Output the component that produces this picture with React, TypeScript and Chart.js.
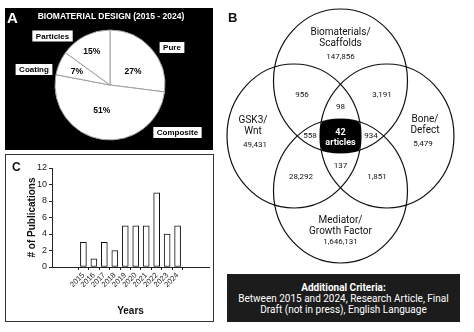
import React, { useEffect, useRef } from 'react';
import { Chart, registerables } from 'chart.js';

Chart.register(...registerables);

// ---------- Panel A data ----------
const designLabels = ['Pure', 'Composite', 'Coating', 'Particles'];
const designShares = [27, 51, 7, 15];

// ---------- Panel C data ----------
const years = [2015, 2016, 2017, 2018, 2019, 2020, 2021, 2022, 2023, 2024];
const publications = [3, 1, 3, 2, 5, 5, 5, 9, 4, 5];
const yTickStep = 2;
const yMax = 12;

// ---------- Panel B data ----------
const setNames = [
  ['Biomaterials/', 'Scaffolds'],
  ['GSK3/', 'Wnt'],
  ['Bone/', 'Defect'],
  ['Mediator/', 'Growth Factor'],
];
const setTotals = [147856, 49431, 5479, 1646131];
// overlaps: top∩left, top∩right, top∩left∩right, top∩left∩bottom, top∩right∩bottom, left∩right∩bottom, left∩bottom, right∩bottom
const overlapCounts = [956, 3191, 98, 558, 934, 137, 28292, 1851];
const coreCount = 42;
const coreUnit = 'articles';
const criteriaTitle = 'Additional Criteria:';
const criteriaLines = [
  'Between 2015 and 2024, Research Article, Final',
  'Draft (not in press), English Language',
];

// ---------- layout (not data) ----------
const pctPos = [
  [0.42, -0.25],
  [-0.15, 0.47],
  [-0.6, -0.24],
  [-0.33, -0.6],
];
const calloutPos = [
  [1.127, -0.682],
  [1.227, 0.864],
  [-1.382, -0.282],
  [-1.045, -0.891],
];
// set centres in venn units (each set has radius 1)
const vennCenters = [
  { x: 0, y: 0.764 },
  { x: -0.694, y: 0 },
  { x: 0.694, y: 0 },
  { x: 0, y: -0.764 },
];
const namePos = [
  [0, 1.44],
  [-1.306, 0.222],
  [1.261, 0.236],
  [0, -1.167],
];
const totalPos = [
  [0, 1.101],
  [-1.276, -0.125],
  [1.231, -0.111],
  [0, -1.472],
];
const overlapPos = [
  [-0.575, 0.569],
  [0.619, 0.569],
  [0, 0.403],
  [-0.455, 0],
  [0.455, 0],
  [0, -0.417],
  [-0.59, -0.576],
  [0.545, -0.576],
];

const fmt = (n: number) => n.toLocaleString('en-US');

function PieChart() {
  const ref = useRef<HTMLCanvasElement>(null);
  useEffect(() => {
    const labelPlugin = {
      id: 'pieLabels',
      afterDatasetsDraw(chart: any) {
        const ctx = chart.ctx;
        const arc = chart.getDatasetMeta(0).data[0];
        const cx = arc.x;
        const cy = arc.y;
        const r = arc.outerRadius;
        ctx.save();
        ctx.textAlign = 'center';
        ctx.textBaseline = 'middle';
        designLabels.forEach((lab, i) => {
          ctx.font = 'bold 8.5px "Liberation Sans", Arial, sans-serif';
          ctx.fillStyle = '#000';
          ctx.fillText(designShares[i] + '%', cx + pctPos[i][0] * r, cy + pctPos[i][1] * r);
          ctx.font = 'bold 8px "Liberation Sans", Arial, sans-serif';
          const w = ctx.measureText(lab).width + 7;
          const bx = cx + calloutPos[i][0] * r;
          const by = cy + calloutPos[i][1] * r;
          ctx.fillStyle = '#fff';
          ctx.fillRect(bx - w / 2, by - 5.5, w, 11);
          ctx.fillStyle = '#000';
          ctx.fillText(lab, bx, by + 0.5);
        });
        ctx.restore();
      },
    };
    const chart = new Chart(ref.current!, {
      type: 'pie',
      data: {
        labels: designLabels,
        datasets: [
          {
            data: designShares,
            backgroundColor: '#ffffff',
            borderColor: '#a0a0a0',
            borderWidth: 1,
          },
        ],
      },
      options: {
        responsive: false,
        animation: false,
        radius: 55,
        layout: { padding: { top: 20, bottom: 8, left: 2, right: 0 } },
        plugins: { legend: { display: false }, tooltip: { enabled: false } },
      } as any,
      plugins: [labelPlugin],
    });
    return () => chart.destroy();
  }, []);
  return <canvas ref={ref} width={208} height={142} style={{ width: 208, height: 142, background: '#000', display: 'block' }} />;
}

function BarChart() {
  const ref = useRef<HTMLCanvasElement>(null);
  useEffect(() => {
    const tickFont = { family: '"Liberation Sans", Arial, sans-serif', size: 9 };
    const chart = new Chart(ref.current!, {
      type: 'bar',
      data: {
        datasets: [
          {
            data: years.map((y, i) => ({ x: y, y: publications[i] })),
            backgroundColor: '#ffffff',
            borderColor: '#111',
            borderWidth: 1,
            barThickness: 6,
            borderSkipped: false,
          },
        ],
      },
      options: {
        responsive: false,
        animation: false,
        layout: { padding: { left: 16, right: 4, top: 13, bottom: 2 } },
        plugins: { legend: { display: false }, tooltip: { enabled: false } },
        scales: {
          x: {
            type: 'linear',
            min: 2012,
            max: 2027,
            offset: false,
            afterBuildTicks: (s: any) => {
              s.ticks = years.map((v) => ({ value: v }));
            },
            afterFit: (s: any) => {
              s.height = 52;
            },
            ticks: {
              autoSkip: false,
              minRotation: 45,
              maxRotation: 45,
              padding: 1,
              color: '#222',
              font: { family: '"Liberation Sans", Arial, sans-serif', size: 7.5 },
              callback: (v: any) => String(v),
            },
            grid: { drawOnChartArea: false, drawTicks: true, tickLength: 3, color: '#222' },
            border: { display: true, color: '#222', width: 1 },
            title: {
              display: true,
              text: 'Years',
              color: '#111',
              font: { family: '"Liberation Sans", Arial, sans-serif', size: 10, weight: 'bold' },
              padding: { top: 0, bottom: 2 },
            },
          },
          y: {
            min: 0,
            max: yMax,
            afterFit: (s: any) => {
              s.width = 30;
            },
            ticks: { stepSize: yTickStep, padding: 2, color: '#222', font: tickFont },
            grid: { drawOnChartArea: false, drawTicks: true, tickLength: 3, color: '#222' },
            border: { display: true, color: '#222', width: 1 },
            title: {
              display: true,
              text: '# of Publications',
              color: '#111',
              font: { family: '"Liberation Sans", Arial, sans-serif', size: 10, weight: 'bold' },
              padding: { top: 4, bottom: 4 },
            },
          },
        },
      } as any,
    });
    return () => chart.destroy();
  }, []);
  return <canvas ref={ref} width={207} height={166} style={{ width: 207, height: 166, display: 'block' }} />;
}

function VennChart() {
  const ref = useRef<HTMLCanvasElement>(null);
  useEffect(() => {
    const vennPlugin = {
      id: 'vennSets',
      afterDatasetsDraw(chart: any) {
        const ctx = chart.ctx;
        const sx = chart.scales.x;
        const sy = chart.scales.y;
        const X = (v: number) => sx.getPixelForValue(v);
        const Y = (v: number) => sy.getPixelForValue(v);
        const rx = X(1) - X(0);
        const ry = Y(0) - Y(1);
        const pts = chart.getDatasetMeta(0).data;
        ctx.save();
        // set outlines
        ctx.strokeStyle = '#111';
        ctx.lineWidth = 1.2;
        pts.forEach((p: any) => {
          ctx.beginPath();
          ctx.ellipse(p.x, p.y, rx, ry, 0, 0, Math.PI * 2);
          ctx.stroke();
        });
        // core (intersection of all sets), with softened corners
        const soft = 4;
        ctx.fillStyle = '#000';
        for (let a = 0; a < 360; a += 15) {
          const dx = soft * Math.cos((a * Math.PI) / 180);
          const dy = soft * Math.sin((a * Math.PI) / 180);
          ctx.save();
          pts.forEach((p: any) => {
            ctx.beginPath();
            ctx.ellipse(p.x + dx, p.y + dy, rx - soft, ry - soft, 0, 0, Math.PI * 2);
            ctx.clip();
          });
          ctx.fillRect(0, 0, chart.width, chart.height);
          ctx.restore();
        }
        // texts
        ctx.textAlign = 'center';
        ctx.textBaseline = 'middle';
        ctx.fillStyle = '#111';
        setNames.forEach((lines, i) => {
          ctx.font = '10px Roboto, "Noto Sans", sans-serif';
          lines.forEach((ln, k) => ctx.fillText(ln, X(namePos[i][0]), Y(namePos[i][1]) + k * 11.3));
          ctx.font = '8px Roboto, "Noto Sans", sans-serif';
          ctx.fillText(fmt(setTotals[i]), X(totalPos[i][0]), Y(totalPos[i][1]));
        });
        ctx.font = '8px Roboto, "Noto Sans", sans-serif';
        overlapCounts.forEach((c, i) => ctx.fillText(fmt(c), X(overlapPos[i][0]), Y(overlapPos[i][1])));
        ctx.fillStyle = '#fff';
        ctx.font = 'bold 9px Roboto, "Noto Sans", sans-serif';
        const mx = X(0);
        const my = Y(0);
        ctx.fillText(String(coreCount), mx, my - 3.5);
        ctx.fillText(coreUnit, mx, my + 6.5);
        ctx.restore();
      },
    };
    const chart = new Chart(ref.current!, {
      type: 'scatter',
      data: {
        datasets: [
          {
            data: vennCenters,
            pointRadius: 0,
            pointHoverRadius: 0,
            showLine: false,
            clip: false,
          } as any,
        ],
      },
      options: {
        responsive: false,
        animation: false,
        layout: { padding: 0 },
        plugins: { legend: { display: false }, tooltip: { enabled: false } },
        scales: {
          x: { type: 'linear', display: false, min: -1.724, max: 1.993 },
          y: { type: 'linear', display: false, min: -1.861, max: 1.889 },
        },
      } as any,
      plugins: [vennPlugin],
    });
    return () => chart.destroy();
  }, []);
  return <canvas ref={ref} width={249} height={270} style={{ width: 249, height: 270, display: 'block' }} />;
}

export default function App() {
  const bold = '"Liberation Sans", Arial, sans-serif';
  return (
    <div style={{ position: 'fixed', left: 0, top: 0, width: 474, height: 332, background: '#fff', overflow: 'hidden' }}>
      <div style={{ position: 'absolute', left: 5, top: 8 }}>
        <PieChart />
      </div>
      <div style={{ position: 'absolute', left: 7, top: 9, color: '#fff', font: `bold 15px ${bold}`, lineHeight: '18px' }}>A</div>
      <div
        style={{
          position: 'absolute',
          left: 5,
          width: 212,
          top: 11,
          textAlign: 'center',
          color: '#fff',
          font: `bold 8.5px ${bold}`,
          lineHeight: '10px',
          whiteSpace: 'nowrap',
        }}
      >
        BIOMATERIAL DESIGN (2015 - 2024)
      </div>

      <div style={{ position: 'absolute', left: 5, top: 154, width: 209, height: 168, border: '1px solid #333', boxSizing: 'border-box' }}>
        <BarChart />
      </div>
      <div style={{ position: 'absolute', left: 12, top: 160, color: '#111', font: `bold 12px ${bold}`, lineHeight: '14px' }}>C</div>

      <div style={{ position: 'absolute', left: 225, top: 0 }}>
        <VennChart />
      </div>
      <div style={{ position: 'absolute', left: 228, top: 10, color: '#111', font: `bold 13px ${bold}`, lineHeight: '15px' }}>B</div>

      <div
        style={{
          position: 'absolute',
          left: 227,
          top: 274,
          width: 233,
          height: 48,
          background: '#1c1c1c',
          color: '#fff',
          textAlign: 'center',
          font: '10px Roboto, "Noto Sans", sans-serif',
          lineHeight: '11px',
          paddingTop: 8,
          boxSizing: 'border-box',
          whiteSpace: 'nowrap',
        }}
      >
        <div style={{ fontWeight: 'bold' }}>{criteriaTitle}</div>
        {criteriaLines.map((l) => (
          <div key={l}>{l}</div>
        ))}
      </div>
    </div>
  );
}
